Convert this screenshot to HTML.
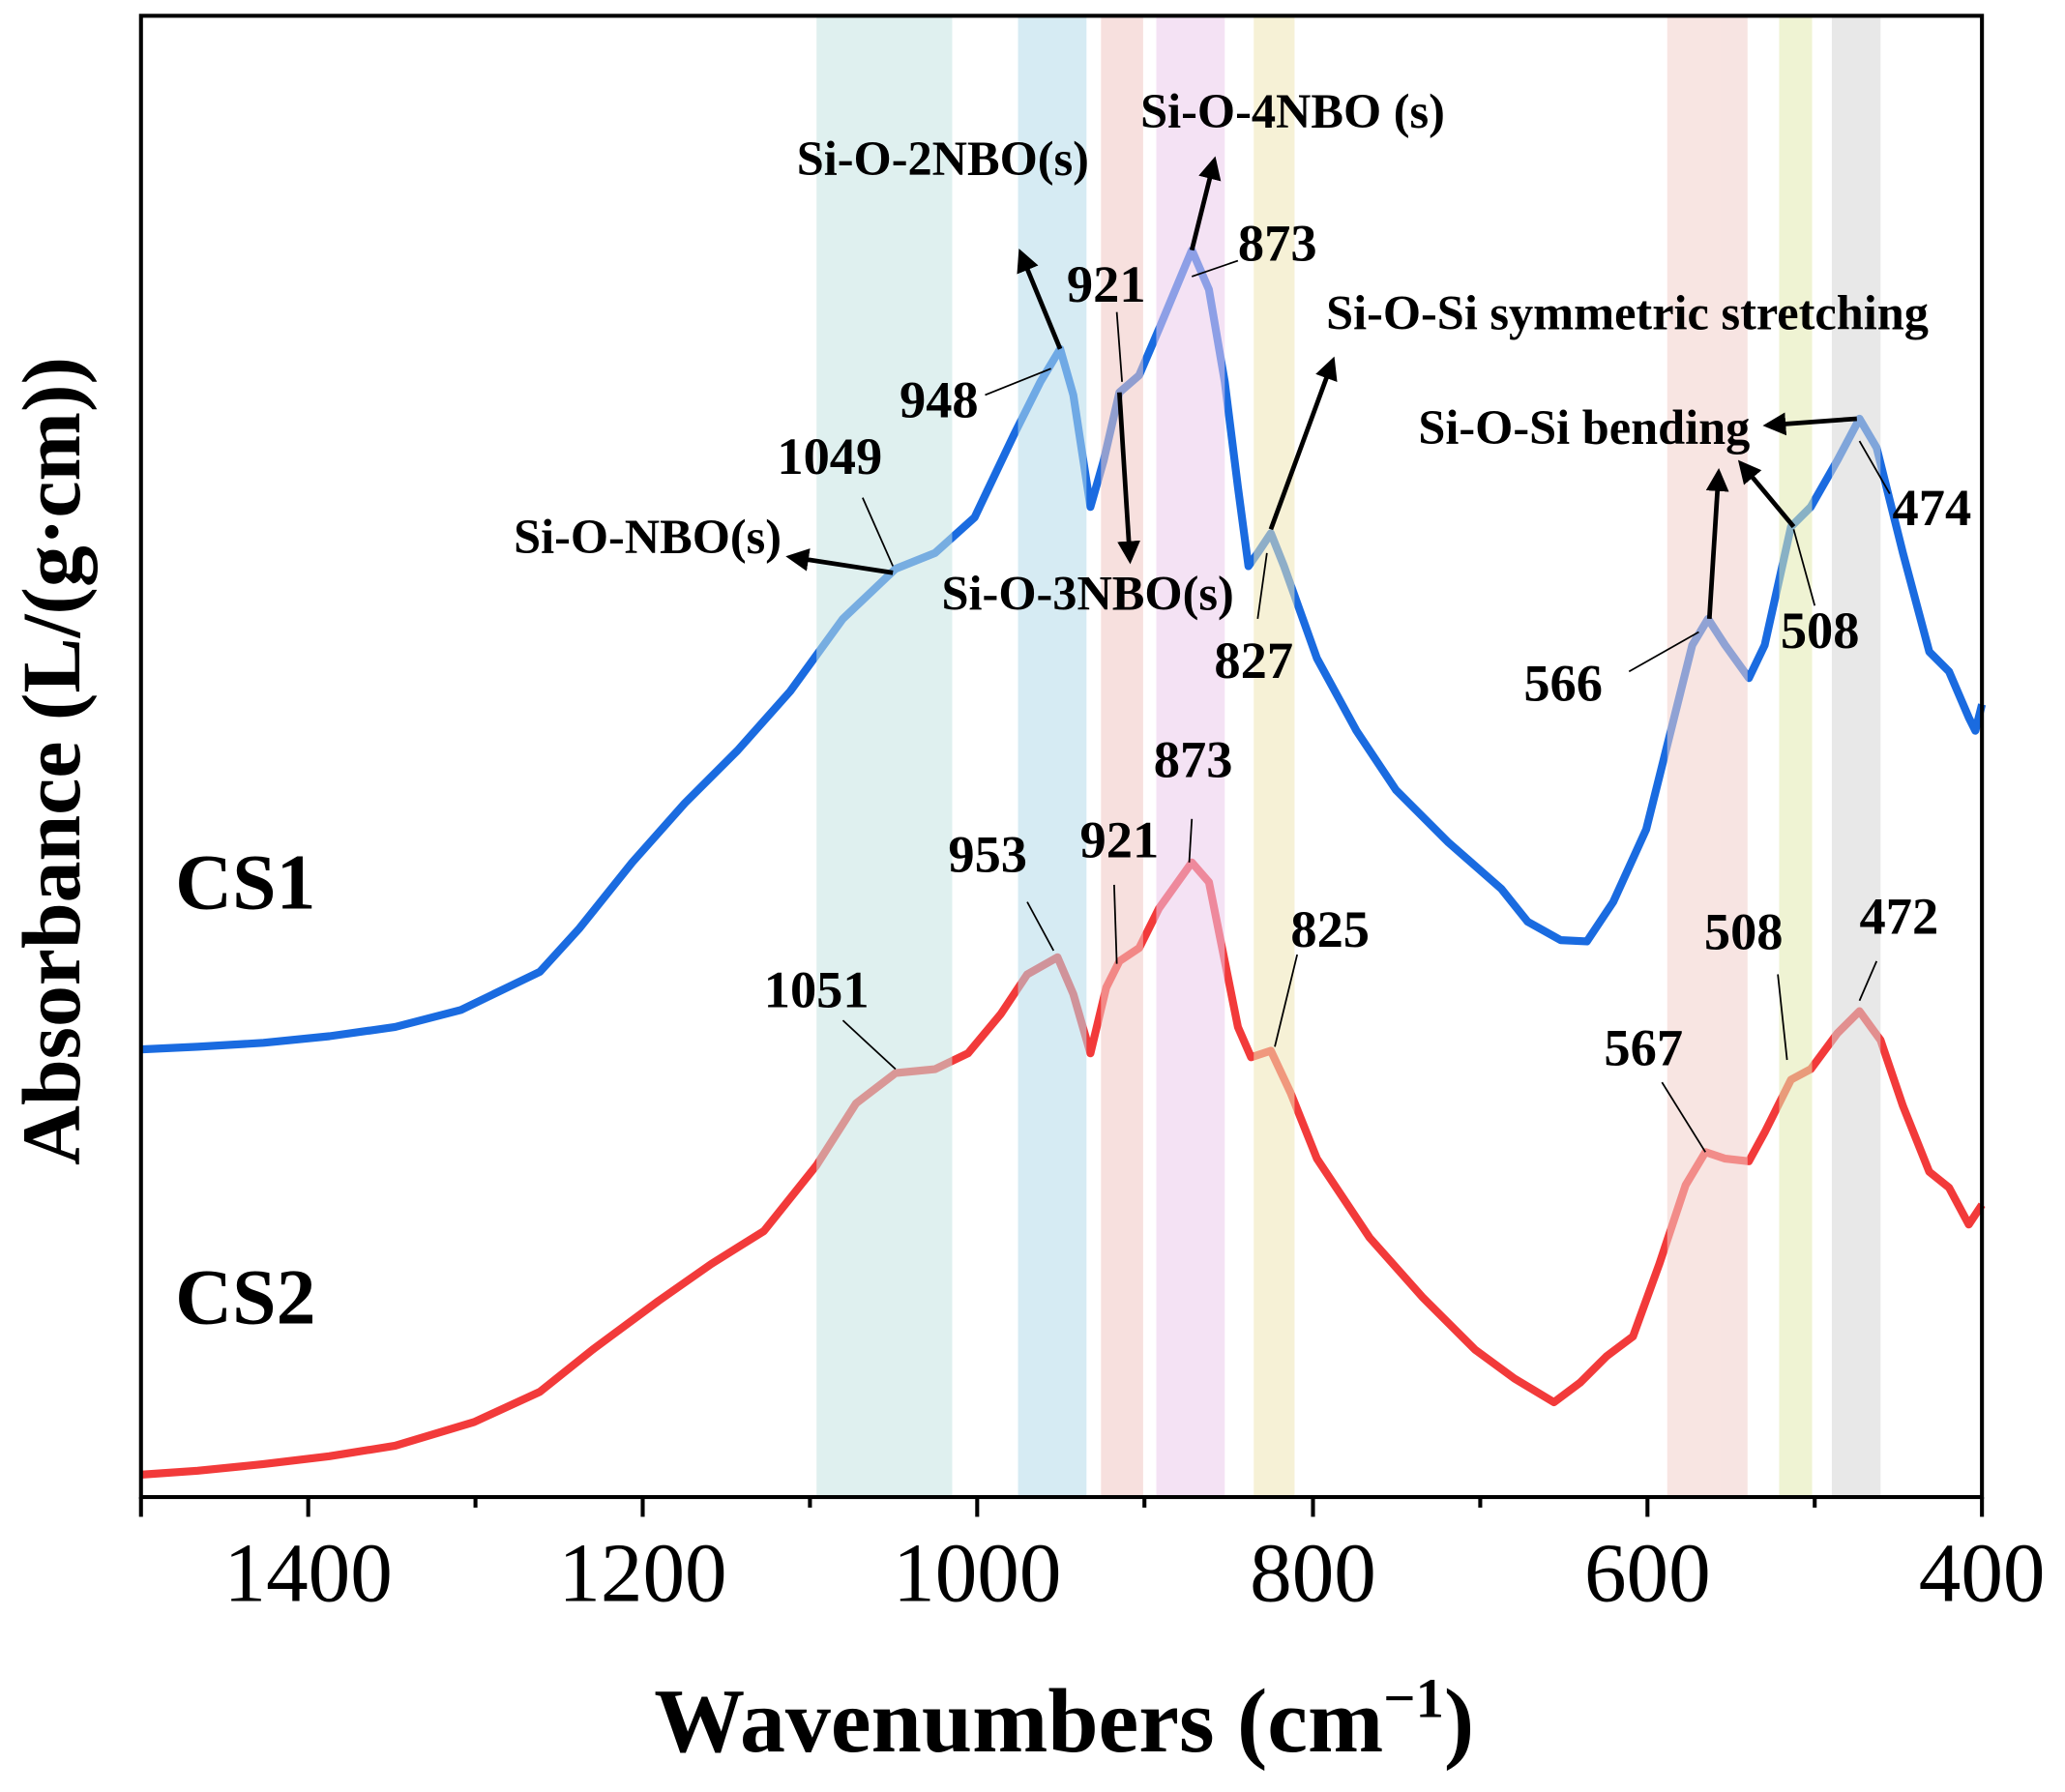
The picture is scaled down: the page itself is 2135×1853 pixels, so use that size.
<!DOCTYPE html>
<html><head><meta charset="utf-8"><style>
html,body{margin:0;padding:0;background:#fff;}
svg{display:block;}
text{font-family:"Liberation Serif",serif;font-weight:bold;fill:#000;}
</style></head><body>
<svg width="2135" height="1853" viewBox="0 0 1568 1361" xmlns="http://www.w3.org/2000/svg">
<defs>
<marker id="ah" viewBox="0 0 10 10" refX="8" refY="5" markerWidth="5" markerHeight="5" orient="auto">
<path d="M0,0 L10,5 L0,10 z" fill="#000"/></marker>
</defs>
<rect width="1568" height="1361" fill="#fff"/>
<polyline fill="none" stroke="#1a6be0" stroke-width="6" stroke-linejoin="round" points="107,797 150,795 200,792 250,787 300,780 350,767 410,738 440,705 480,655 520,610 560,570 600,525 640,470 680,432 710,420 740,393 770,330 790,290 805,265 815,300 828,385 838,350 850,298 865,285 880,250 905,190 918,220 930,290 940,370 948,430 955,420 965,405 975,430 1000,500 1030,555 1060,600 1100,640 1140,675 1160,700 1185,714 1205,715 1225,685 1250,630 1270,550 1285,490 1297,470 1310,490 1328,515 1340,490 1360,400 1375,385 1395,350 1412,318 1425,340 1445,420 1465,495 1480,510 1495,545 1500,555 1505,535"/>
<polyline fill="none" stroke="#f23a3a" stroke-width="6" stroke-linejoin="round" points="107,1120 150,1117 200,1112 250,1106 300,1098 360,1080 410,1057 450,1025 500,988 540,960 580,935 620,885 650,838 680,815 710,812 735,800 760,770 780,740 803,727 815,755 828,800 840,750 850,730 865,720 880,690 905,655 918,670 930,730 940,780 950,803 965,798 980,830 1000,880 1040,940 1080,985 1120,1025 1150,1047 1180,1065 1200,1050 1220,1030 1240,1015 1260,960 1280,900 1295,875 1310,880 1328,882 1340,860 1360,820 1375,812 1395,785 1412,768 1428,790 1445,840 1465,890 1480,902 1495,930 1505,915"/>
<g opacity="0.55">
<rect x="620" y="12" width="103" height="1125" fill="#c4e4e2"/>
<rect x="773" y="12" width="52" height="1125" fill="#b6dcea"/>
<rect x="836" y="12" width="32" height="1125" fill="#f2c8c4"/>
<rect x="878" y="12" width="52" height="1125" fill="#eccbec"/>
<rect x="952" y="12" width="31" height="1125" fill="#efe6b4"/>
<rect x="1266" y="12" width="61" height="1125" fill="#f2cfcb"/>
<rect x="1351" y="12" width="25" height="1125" fill="#e2ebb0"/>
<rect x="1391" y="12" width="37" height="1125" fill="#d6d6d6"/>
</g>
<rect x="107" y="12" width="1398" height="1125" fill="none" stroke="#000" stroke-width="3"/>
<g stroke="#000" stroke-width="3">
<line x1="107" y1="1137" x2="107" y2="1152"/><line x1="234" y1="1137" x2="234" y2="1152"/><line x1="488" y1="1137" x2="488" y2="1152"/><line x1="742" y1="1137" x2="742" y2="1152"/><line x1="997" y1="1137" x2="997" y2="1152"/><line x1="1251" y1="1137" x2="1251" y2="1152"/><line x1="1505" y1="1137" x2="1505" y2="1152"/>
<line x1="361" y1="1137" x2="361" y2="1145"/><line x1="615" y1="1137" x2="615" y2="1145"/><line x1="869" y1="1137" x2="869" y2="1145"/><line x1="1124" y1="1137" x2="1124" y2="1145"/><line x1="1378" y1="1137" x2="1378" y2="1145"/>
</g>
<g font-size="64" text-anchor="middle">
<text x="234" y="1216" style="font-weight:normal">1400</text><text x="488" y="1216" style="font-weight:normal">1200</text><text x="742" y="1216" style="font-weight:normal">1000</text><text x="997" y="1216" style="font-weight:normal">800</text><text x="1251" y="1216" style="font-weight:normal">600</text><text x="1505" y="1216" style="font-weight:normal">400</text>
</g>
<text x="808" y="1330" font-size="69" text-anchor="middle">Wavenumbers (cm<tspan font-size="43" dy="-26">−1</tspan><tspan dy="26">)</tspan></text>
<text transform="translate(60,578) rotate(-90)" font-size="63" text-anchor="middle">Absorbance (L/(g·cm))</text>
<text x="133" y="690" font-size="60">CS1</text>
<text x="133" y="1005" font-size="60">CS2</text>
<g font-size="37">
<text x="605" y="133">Si-O-2NBO(s)</text>
<text x="866" y="97">Si-O-4NBO (s)</text>
<text x="390" y="420">Si-O-NBO(s)</text>
<text x="715" y="463">Si-O-3NBO(s)</text>
<text x="1007" y="250">Si-O-Si symmetric stretching</text>
<text x="1077" y="337">Si-O-Si bending</text>
</g>
<g font-size="40">
<text x="940" y="198">873</text>
<text x="810" y="229">921</text>
<text x="683" y="317">948</text>
<text x="590" y="360">1049</text>
<text x="922" y="515">827</text>
<text x="1437" y="399">474</text>
<text x="1352" y="492">508</text>
<text x="1157" y="532">566</text>
<text x="876" y="590">873</text>
<text x="720" y="662">953</text>
<text x="820" y="651">921</text>
<text x="980" y="719">825</text>
<text x="580" y="765">1051</text>
<text x="1218" y="809">567</text>
<text x="1294" y="721">508</text>
<text x="1412" y="709">472</text>
</g>
<g stroke="#000" stroke-width="1.3" fill="none">
<line x1="748" y1="300" x2="798" y2="280"/><line x1="848" y1="237" x2="852" y2="290"/><line x1="905" y1="210" x2="940" y2="198"/><line x1="655" y1="378" x2="678" y2="430"/><line x1="955" y1="470" x2="962" y2="420"/><line x1="1237" y1="510" x2="1290" y2="480"/><line x1="1378" y1="460" x2="1362" y2="402"/><line x1="1435" y1="375" x2="1412" y2="335"/>
<line x1="780" y1="685" x2="800" y2="722"/><line x1="846" y1="672" x2="848" y2="732"/><line x1="905" y1="622" x2="903" y2="655"/><line x1="985" y1="725" x2="968" y2="795"/><line x1="640" y1="775" x2="680" y2="812"/><line x1="1262" y1="822" x2="1295" y2="875"/><line x1="1350" y1="740" x2="1357" y2="805"/><line x1="1425" y1="730" x2="1412" y2="760"/>
</g>
<g stroke="#000" stroke-width="3.5" fill="none" marker-end="url(#ah)">
<line x1="805" y1="265" x2="775" y2="192"/>
<line x1="850" y1="298" x2="858" y2="425"/>
<line x1="905" y1="190" x2="922" y2="122"/>
<line x1="678" y1="435" x2="600" y2="423"/>
<line x1="965" y1="402" x2="1012" y2="274"/>
<line x1="1298" y1="470" x2="1305" y2="359"/>
<line x1="1362" y1="400" x2="1322" y2="352"/>
<line x1="1410" y1="318" x2="1342" y2="323"/>
</g>
</svg>
</body></html>
